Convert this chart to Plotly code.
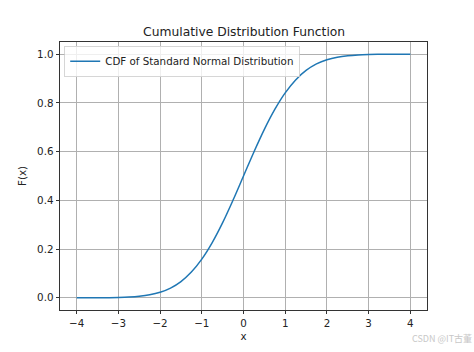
import plotly.graph_objects as go

x_vals = [-4.0, -3.75, -3.5, -3.25, -3.0, -2.75, -2.5, -2.25, -2.0, -1.75, -1.5, -1.25,
          -1.0, -0.75, -0.5, -0.25, 0.0, 0.25, 0.5, 0.75, 1.0, 1.25, 1.5, 1.75,
          2.0, 2.25, 2.5, 2.75, 3.0, 3.25, 3.5, 3.75, 4.0]
cdf_vals = [0.00003, 0.00009, 0.00023, 0.00058, 0.00135, 0.00298, 0.00621, 0.01222,
            0.02275, 0.04006, 0.06681, 0.10565, 0.15866, 0.22663, 0.30854, 0.40129,
            0.5, 0.59871, 0.69146, 0.77337, 0.84134, 0.89435, 0.93319, 0.95994,
            0.97725, 0.98778, 0.99379, 0.99702, 0.99865, 0.99942, 0.99977, 0.99991, 0.99997]
x_ticks = [-4, -3, -2, -1, 0, 1, 2, 3, 4]
y_ticks = [0.0, 0.2, 0.4, 0.6, 0.8, 1.0]
y_tick_labels = ["0.0", "0.2", "0.4", "0.6", "0.8", "1.0"]
x_tick_labels = ["\u22124", "\u22123", "\u22122", "\u22121", "0", "1", "2", "3", "4"]

FONT = "DejaVu Sans"

fig = go.Figure()
fig.add_trace(go.Scatter(
    x=x_vals, y=cdf_vals, mode="lines", line_shape="spline",
    line=dict(color="#1f77b4", width=1.5),
    name="CDF of Standard Normal Distribution",
))

axis_common = dict(
    showgrid=True, gridcolor="#b0b0b0", gridwidth=0.8,
    showline=True, linecolor="#333333", linewidth=0.9, mirror=True,
    ticks="outside", ticklen=3.5, tickwidth=0.8, tickcolor="#333333",
    zeroline=False, tickfont=dict(family=FONT, size=10.3, color="#222222"),
)

fig.update_layout(
    width=474, height=352,
    margin=dict(l=59.5, r=47, t=41.5, b=39),
    paper_bgcolor="white", plot_bgcolor="white",
    font=dict(family=FONT, size=10.3, color="#222222"),
    title=dict(text="Cumulative Distribution Function", x=0.515, xanchor="center",
               y=1 - 32 / 352, yanchor="middle",
               font=dict(family=FONT, size=12.3, color="#222222")),
    xaxis=dict(range=[-4.4, 4.4], tickvals=x_ticks, ticktext=x_tick_labels,
               title=dict(text="x", standoff=4, font=dict(family=FONT, size=10.3)),
               **axis_common),
    yaxis=dict(range=[-0.05, 1.05], tickvals=y_ticks, ticktext=y_tick_labels,
               title=dict(text="F(x)", standoff=8, font=dict(family=FONT, size=10.3)),
               **axis_common),
    showlegend=True,
    legend=dict(x=0.012, y=0.985, xanchor="left", yanchor="top",
                bgcolor="rgba(255,255,255,0.8)", bordercolor="#cccccc", borderwidth=0.8,
                font=dict(family=FONT, size=10.3, color="#222222"),
                itemwidth=30, tracegroupgap=0),
    annotations=[dict(text="CSDN @IT古董", x=1.0, y=0.0, xref="paper", yref="paper",
                      xanchor="right", yanchor="bottom", showarrow=False,
                      font=dict(family="Noto Sans CJK SC", size=9, color="#c8c8c8"),
                      xshift=47, yshift=-37)],
)

fig.write_html("out.html")
